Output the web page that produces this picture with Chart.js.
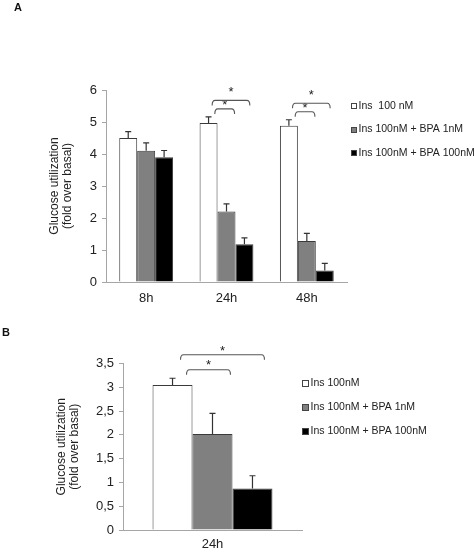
<!DOCTYPE html>
<html>
<head>
<meta charset="utf-8">
<script src="https://cdn.jsdelivr.net/npm/chart.js@4"></script>
<style>
  body { margin: 0; background: #fff; }
  #wrapA { position: absolute; left: 0; top: 0; }
  #wrapB { position: absolute; left: 0; top: 310px; }
</style>
</head>
<body>
<div id="wrapA"><canvas id="chartA" width="474" height="320"></canvas></div>
<div id="wrapB"><canvas id="chartB" width="474" height="242"></canvas></div>
<script>
// Panel A: glucose utilization over time
const timesA = ['8h', '24h', '48h'];
const insA = [4.5, 4.97, 4.88];
const bpa1A = [4.1, 2.2, 1.28];
const bpa100A = [3.9, 1.18, 0.36];
const insErrA = [0.2, 0.19, 0.19];
const bpa1ErrA = [0.25, 0.24, 0.24];
const bpa100ErrA = [0.21, 0.2, 0.22];
const legendA = ['Ins  100 nM', 'Ins 100nM + BPA 1nM', 'Ins 100nM + BPA 100nM'];
// significance: [category, dataset, dataset]
const sigA = [[1, 0, 1], [1, 0, 2], [2, 0, 1], [2, 0, 2]];

// Panel B: 24h only
const timesB = ['24h'];
const insB = [3.05];
const bpa1B = [2.02];
const bpa100B = [0.87];
const insErrB = [0.14];
const bpa1ErrB = [0.43];
const bpa100ErrB = [0.27];
const legendB = ['Ins 100nM', 'Ins 100nM + BPA 1nM', 'Ins 100nM + BPA 100nM'];
const yTicksB = ['0', '0,5', '1', '1,5', '2', '2,5', '3', '3,5'];
const sigB = [[0, 0, 1], [0, 0, 2]];

const FONT = '"Liberation Sans", Arial, sans-serif';
Chart.defaults.font.family = FONT;
Chart.defaults.color = '#222';
const AXIS = '#a6a6a6';
const fills = ['#ffffff', '#808080', '#000000'];

// upward error bars with a cap
const errorBars = {
  id: 'errorBars',
  afterDatasetsDraw(chart) {
    const ctx = chart.ctx, y = chart.scales.y;
    ctx.save();
    ctx.strokeStyle = '#333';
    ctx.lineWidth = 1.2;
    chart.data.datasets.forEach((ds, i) => {
      chart.getDatasetMeta(i).data.forEach((bar, j) => {
        const top = y.getPixelForValue(ds.data[j] + ds.errors[j]);
        ctx.beginPath();
        ctx.moveTo(bar.x, bar.y);
        ctx.lineTo(bar.x, top);
        ctx.moveTo(bar.x - 3, top);
        ctx.lineTo(bar.x + 3, top);
        ctx.stroke();
      });
    });
    ctx.restore();
  }
};

// significance brackets with stars
const brackets = {
  id: 'brackets',
  afterDatasetsDraw(chart, args, opts) {
    const ctx = chart.ctx, y = chart.scales.y;
    ctx.save();
    ctx.strokeStyle = '#555';
    ctx.lineWidth = 1.1;
    ctx.fillStyle = '#222';
    ctx.font = '13px ' + FONT;
    ctx.textAlign = 'center';
    ctx.textBaseline = 'middle';
    opts.pairs.forEach(([cat, a, b]) => {
      const ref = chart.data.datasets[a];
      const barA = chart.getDatasetMeta(a).data[cat];
      const barB = chart.getDatasetMeta(b).data[cat];
      const bw = barA.width;
      const outer = b - a > 1;
      const x1 = barA.x + bw * (outer ? 0.2 : 0.35);
      const x2 = barB.x + bw * (outer ? 0.3 : 0.45);
      const yy = y.getPixelForValue(ref.data[cat] + ref.errors[cat]) - (outer ? opts.outerGap : opts.innerGap);
      const d = 5, r = 3;
      ctx.beginPath();
      ctx.moveTo(x1, yy + d);
      ctx.quadraticCurveTo(x1, yy, x1 + r, yy);
      ctx.lineTo(x2 - r, yy);
      ctx.quadraticCurveTo(x2, yy, x2, yy + d);
      ctx.stroke();
      ctx.fillText('*', (x1 + x2) / 2, yy - (outer ? opts.starOuter : opts.starInner) + 3.5);
    });
    ctx.restore();
  }
};

// legend to the right of the plot
const sideLegend = {
  id: 'sideLegend',
  afterDraw(chart, args, opts) {
    const ctx = chart.ctx, area = chart.chartArea, s = opts.box;
    ctx.save();
    ctx.font = '10.5px ' + FONT;
    ctx.textBaseline = 'middle';
    ctx.lineWidth = 1;
    chart.data.datasets.forEach((ds, i) => {
      const x = area.right + opts.dx, yy = area.top + opts.dy + i * opts.step;
      ctx.fillStyle = ds.backgroundColor;
      ctx.fillRect(x, Math.round(yy - s / 2), s, s);
      ctx.strokeStyle = '#444';
      ctx.strokeRect(x + 0.5, Math.round(yy - s / 2) + 0.5, s - 1, s - 1);
      ctx.fillStyle = '#222';
      ctx.fillText(ds.label, x + s + 1.5, yy);
    });
    ctx.restore();
  }
};

const panelLabel = {
  id: 'panelLabel',
  afterDraw(chart, args, opts) {
    const ctx = chart.ctx;
    ctx.save();
    ctx.font = 'bold 11px ' + FONT;
    ctx.fillStyle = '#111';
    ctx.textAlign = 'center';
    ctx.textBaseline = 'middle';
    ctx.fillText(opts.text, opts.x, opts.y);
    ctx.restore();
  }
};

function makeDatasets(labels, values, errors) {
  return values.map((v, i) => ({
    label: labels[i],
    data: v,
    errors: errors[i],
    backgroundColor: fills[i],
    borderColor: '#3a3a3a',
    borderWidth: 1,
    categoryPercentage: 0.67,
    barPercentage: 1.0
  }));
}

function yTitle(pad) {
  return {
    display: true,
    text: ['Glucose utilization', '(fold over basal)'],
    color: '#222',
    font: { size: 12, lineHeight: 1.1 },
    padding: { top: pad, bottom: 0 }
  };
}

new Chart(document.getElementById('chartA'), {
  type: 'bar',
  data: {
    labels: timesA,
    datasets: makeDatasets(legendA, [insA, bpa1A, bpa100A], [insErrA, bpa1ErrA, bpa100ErrA])
  },
  options: {
    responsive: false,
    animation: false,
    layout: { padding: { top: 90, right: 127, left: 0, bottom: 0 } },
    scales: {
      x: {
        grid: { display: false, drawTicks: false },
        border: { color: AXIS },
        ticks: { font: { size: 13 }, padding: 9 },
        afterFit: s => { s.height = 38; }
      },
      y: {
        min: 0, max: 6,
        ticks: { stepSize: 1, font: { size: 13 }, padding: 5 },
        grid: { drawOnChartArea: false, tickLength: 4, color: AXIS },
        border: { color: AXIS },
        title: yTitle(48),
        afterFit: s => { s.width = 106; }
      }
    },
    plugins: {
      legend: { display: false },
      tooltip: { enabled: false },
      brackets: { pairs: sigA, innerGap: 8, outerGap: 16.5, starInner: 7, starOuter: 11 },
      sideLegend: { dx: 4, dy: 16, step: 23.5, box: 6 },
      panelLabel: { text: 'A', x: 18, y: 8 }
    }
  },
  plugins: [errorBars, brackets, sideLegend, panelLabel]
});

new Chart(document.getElementById('chartB'), {
  type: 'bar',
  data: {
    labels: timesB,
    datasets: makeDatasets(legendB, [insB, bpa1B, bpa100B], [insErrB, bpa1ErrB, bpa100ErrB])
  },
  options: {
    responsive: false,
    animation: false,
    layout: { padding: { top: 53.5, right: 172, left: 0, bottom: 0 } },
    scales: {
      x: {
        grid: { display: false, drawTicks: false },
        border: { color: AXIS },
        ticks: { font: { size: 13 }, padding: 7 },
        afterFit: s => { s.height = 22; }
      },
      y: {
        min: 0, max: 3.5,
        ticks: { stepSize: 0.5, font: { size: 13 }, padding: 5, callback: (v, i) => yTicksB[i] },
        grid: { drawOnChartArea: false, tickLength: 4, color: AXIS },
        border: { color: AXIS },
        title: yTitle(55),
        afterFit: s => { s.width = 123; }
      }
    },
    plugins: {
      legend: { display: false },
      tooltip: { enabled: false },
      brackets: { pairs: sigB, innerGap: 8.5, outerGap: 23.5, starInner: 8, starOuter: 7 },
      sideLegend: { dx: 0, dy: 19.5, step: 24, box: 7 },
      panelLabel: { text: 'B', x: 6, y: 23 }
    }
  },
  plugins: [errorBars, brackets, sideLegend, panelLabel]
});
</script>
</body>
</html>
